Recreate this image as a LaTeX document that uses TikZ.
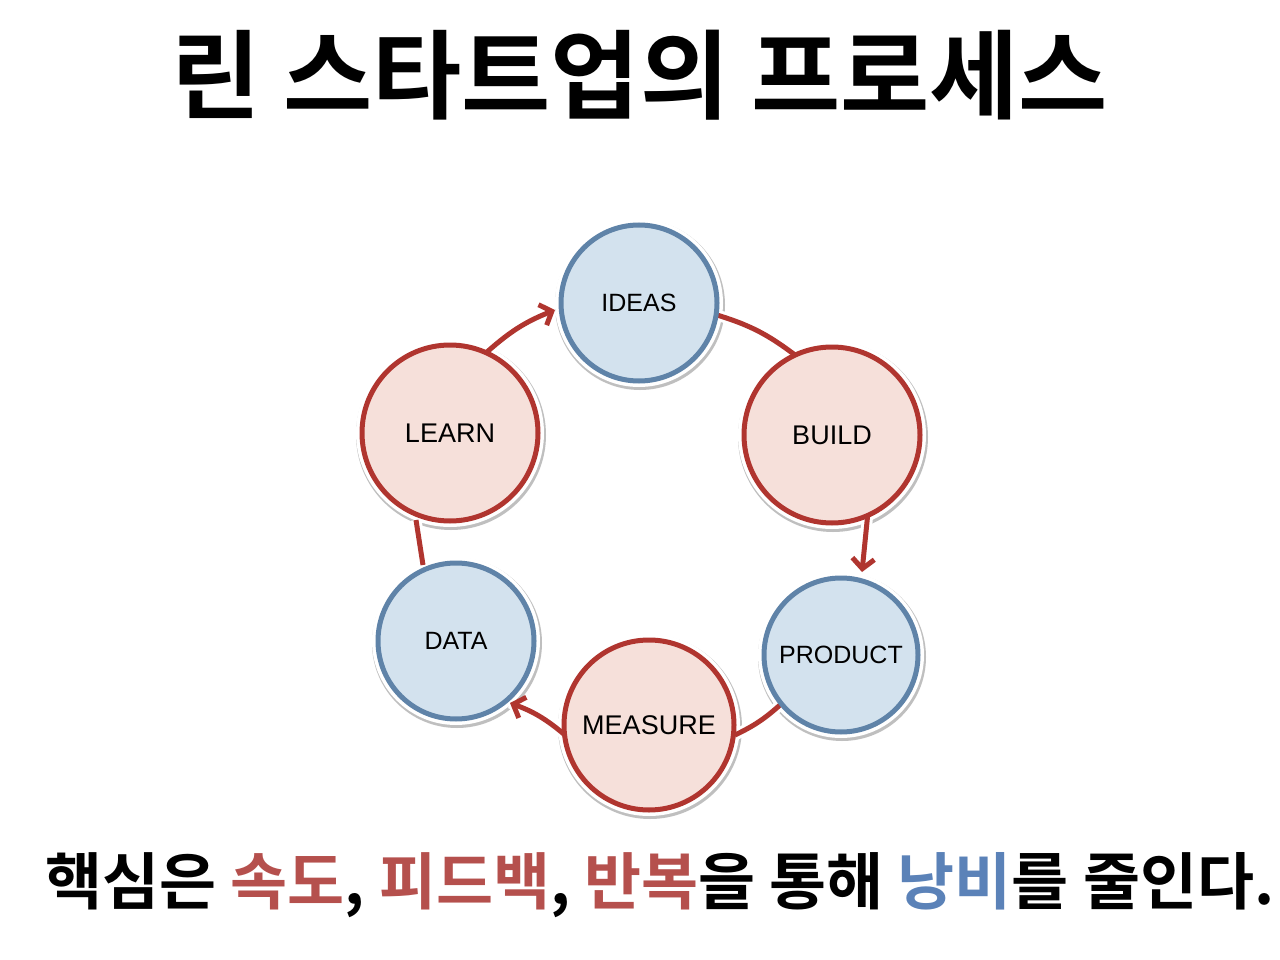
\documentclass[tikz,border=0pt]{standalone}
\usepackage{fontspec}
\setmainfont{Liberation Sans}
\newfontfamily\kr{Noto Sans CJK KR Bold}
\usetikzlibrary{arrows.meta,shadows}
\definecolor{rline}{HTML}{B0352F}
\definecolor{rfill}{HTML}{F6E0DA}
\definecolor{bline}{HTML}{5F83A8}
\definecolor{bfill}{HTML}{D3E2EE}
\definecolor{kred}{HTML}{B5504D}
\definecolor{kblue}{HTML}{5B82B8}
\tikzset{
 halo/.style={circle,fill=black!25,draw=none},
 rc/.style={circle,draw=rline,fill=rfill,line width=5pt,font=\fontsize{27}{28}\selectfont,inner sep=0pt},
 bc/.style={circle,draw=bline,fill=bfill,line width=5pt,font=\fontsize{25}{26}\selectfont,inner sep=0pt},
 conn/.style={draw=rline,line width=5pt},
 arr/.style={conn,-{Straight Barb[length=10pt,width=22pt,line width=5pt]}},
}
\begin{document}
\begin{tikzpicture}[x=1pt,y=-1pt]
\useasboundingbox (0,0) rectangle (1280,960);
\fill[white] (0,0) rectangle (1280,960);
\node (title) at (640,75) {\kr\fontsize{97}{99}\selectfont 린 스타트업의 프로세스};
% halos
\foreach \x/\y/\r in {639/303/78,832/435/88,841/655/77,649/725/85,456/641/78,450/433/88}{
  \node[halo,minimum size=2*\r pt+14pt] at (\x+1,\y+2) {};
  \node[circle,fill=white,minimum size=2*\r pt+12pt] at (\x,\y) {};}
\coordinate (a1) at (487,352); \coordinate (a2) at (555,310);
\coordinate (b1) at (717,315); \coordinate (b2) at (795,355);
\coordinate (c1) at (868,512); \coordinate (c2) at (862,572);
\coordinate (d1) at (780,705); \coordinate (d2) at (735,735);
\coordinate (e1) at (565,735); \coordinate (e2) at (510,703);
\coordinate (f1) at (423,565); \coordinate (f2) at (416,520);
\draw[white,line width=11pt] (a1) to[bend left=10] (a2) (b1) to[bend left=10] (b2) (c1) -- (c2) (d1) to[bend left=8] (d2) (e1) to[bend left=-10] (e2) (f1) -- (f2);
\draw[arr] (a1) to[bend left=10] (a2);
\draw[conn] (b1) to[bend left=10] (b2);
\draw[arr] (c1) -- (c2);
\draw[conn] (d1) to[bend left=8] (d2);
\draw[arr] (e1) to[bend left=-10] (e2);
\draw[conn] (f1) -- (f2);
\node[bc,minimum size=156pt] (ideas) at (639,303) {IDEAS};
\node[rc,minimum size=176pt] (build) at (832,435) {BUILD};
\node[bc,minimum size=154pt] (product) at (841,655) {PRODUCT};
\node[rc,minimum size=170pt] (measure) at (649,725) {MEASURE};
\node[bc,minimum size=156pt] (data) at (456,641) {DATA};
\node[rc,minimum size=176pt] (learn) at (450,433) {LEARN};
\node (sub) at (660,885) {\kr\fontsize{62}{64}\selectfont 핵심은 \textcolor{kred}{속도}, \textcolor{kred}{피드백}, \textcolor{kred}{반복}을 통해 \textcolor{kblue}{낭비}를 줄인다.};
\end{tikzpicture}
\end{document}
